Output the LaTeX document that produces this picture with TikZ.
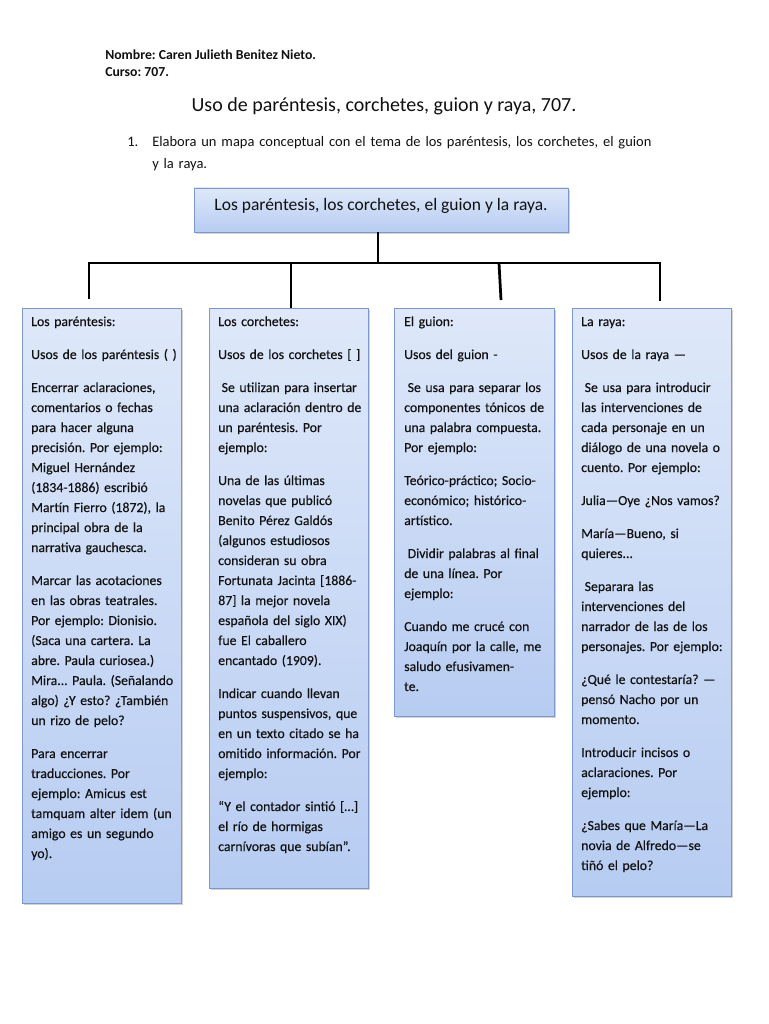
\documentclass[tikz,border=0pt]{standalone}
\usepackage{fontspec}
\setmainfont{Carlito}
\newfontfamily\boxfont{Carlito}[FakeBold=0.35]
\usetikzlibrary{fit,shadows}
\definecolor{boxtop}{HTML}{DEE8F9}
\definecolor{boxbot}{HTML}{B7CCF2}
\definecolor{boxline}{HTML}{7C98C9}
\definecolor{ink}{HTML}{111111}
\tikzset{
  ubox/.style={draw=boxline, line width=0.6pt, top color=boxtop, bottom color=boxbot,
    inner sep=0pt, drop shadow={shadow xshift=1.2pt, shadow yshift=-1.8pt, opacity=0.35}},
  btext/.style={anchor=base west, inner sep=0pt, text width=140pt, align=left,
    font=\boxfont\fontsize{11}{16}\selectfont\frenchspacing, text=ink},
  conn/.style={line width=2.2pt, black},
  hdr/.style={anchor=west, inner sep=0pt, font=\bfseries\fontsize{11}{13}\selectfont, text=ink},
}
\newcommand{\pp}{\\[10.4pt]}
\newcommand{\lsp}{\hspace*{0.25em}}
\begin{document}
\frenchspacing
\begin{tikzpicture}[x=0.8pt,y=-0.8pt]
\useasboundingbox (0,0) rectangle (768,1024);
\fill[white] (0,0) rectangle (768,1024);

% header
\node[hdr] (name) at (105,55) {Nombre: Caren Julieth Benitez Nieto.};
\node[hdr] (curso) at (105,72) {Curso: 707.};
\node[inner sep=0pt, font=\fontsize{16}{19}\selectfont, text=ink] (title) at (384,106) {Uso de paréntesis, corchetes, guion y raya, 707.};
\node[anchor=base west, inner sep=0pt, font=\fontsize{11.6}{14}\selectfont, text=ink] (num) at (127,147) {1.};
\node[anchor=base west, inner sep=0pt, text width=440pt, align=left, font=\fontsize{11.6}{17.6}\selectfont\frenchspacing, text=ink] (task) at (152,147) {Elabora un mapa conceptual con el tema de los paréntesis, los corchetes, el guion\\ y la raya.};

% top box
\node[ubox, fit={(194,188) (568,232)}] (top) {};
\node[inner sep=0pt, font=\fontsize{14}{16}\selectfont, text=ink] (toptext) at (381,206) {Los paréntesis, los corchetes, el guion y la raya.};

% category boxes
\node[ubox, fit={(22,308) (181,903)}] (b1) {};
\node[ubox, fit={(209,308) (368,888)}] (b2) {};
\node[ubox, fit={(394,308) (554,716)}] (b3) {};
\node[ubox, fit={(572,308) (731,896)}] (b4) {};

% connectors
\coordinate (hub) at (378,263);
\coordinate (hl) at (89,263);
\coordinate (hr) at (660,263);
\coordinate (h2) at (291,263);
\coordinate (h3) at (499,263);
\coordinate (d1) at (89,299);
\coordinate (d2) at (291,308);
\coordinate (d3) at (501,300);
\coordinate (d4) at (660,301);
\draw[conn] (hub |- top.south) -- (hub);
\draw[conn, line cap=rect] (hl) -- (hr);
\draw[conn] (hl) -- (d1);
\draw[conn] (h2) -- (d2);
\draw[conn] (h3) -- (d3);
\draw[conn] (hr) -- (d4);

% texts
\node[btext] (t1) at (31,326) {Los paréntesis:\pp
Usos de los paréntesis ( )\pp
Encerrar aclaraciones,\\
comentarios o fechas\\
para hacer alguna\\
precisión. Por ejemplo:\\
Miguel Hernández\\
(1834-1886) escribió\\
Martín Fierro (1872), la\\
principal obra de la\\
narrativa gauchesca.\pp
Marcar las acotaciones\\
en las obras teatrales.\\
Por ejemplo: Dionisio.\\
(Saca una cartera. La\\
abre. Paula curiosea.)\\
Mira... Paula. (Señalando\\
algo) ¿Y esto? ¿También\\
un rizo de pelo?\pp
Para encerrar\\
traducciones. Por\\
ejemplo: Amicus est\\
tamquam alter idem (un\\
amigo es un segundo\\
yo).};

\node[btext] (t2) at (218,326) {Los corchetes:\pp
Usos de los corchetes [ ]\pp
\lsp Se utilizan para insertar\\
una aclaración dentro de\\
un paréntesis. Por\\
ejemplo:\pp
Una de las últimas\\
novelas que publicó\\
Benito Pérez Galdós\\
(algunos estudiosos\\
consideran su obra\\
Fortunata Jacinta {[}1886-\\
87{]} la mejor novela\\
española del siglo XIX)\\
fue El caballero\\
encantado (1909).\pp
Indicar cuando llevan\\
puntos suspensivos, que\\
en un texto citado se ha\\
omitido información. Por\\
ejemplo:\pp
“Y el contador sintió {[}…{]}\\
el río de hormigas\\
carnívoras que subían”.};

\node[btext] (t3) at (404,326) {El guion:\pp
Usos del guion -\pp
\lsp Se usa para separar los\\
componentes tónicos de\\
una palabra compuesta.\\
Por ejemplo:\pp
Teórico-práctico; Socio-\\
económico; histórico-\\
artístico.\pp
\lsp Dividir palabras al final\\
de una línea. Por\\
ejemplo:\pp
Cuando me crucé con\\
Joaquín por la calle, me\\
saludo efusivamen-\\
te.};

\node[btext] (t4) at (581,326) {La raya:\pp
Usos de la raya —\pp
\lsp Se usa para introducir\\
las intervenciones de\\
cada personaje en un\\
diálogo de una novela o\\
cuento. Por ejemplo:\pp
Julia—Oye ¿Nos vamos?\pp
María—Bueno, si\\
quieres...\pp
\lsp Separara las\\
intervenciones del\\
narrador de las de los\\
personajes. Por ejemplo:\pp
¿Qué le contestaría? —\\
pensó Nacho por un\\
momento.\pp
Introducir incisos o\\
aclaraciones. Por\\
ejemplo:\pp
¿Sabes que María—La\\
novia de Alfredo—se\\
tiñó el pelo?};
\end{tikzpicture}
\end{document}
